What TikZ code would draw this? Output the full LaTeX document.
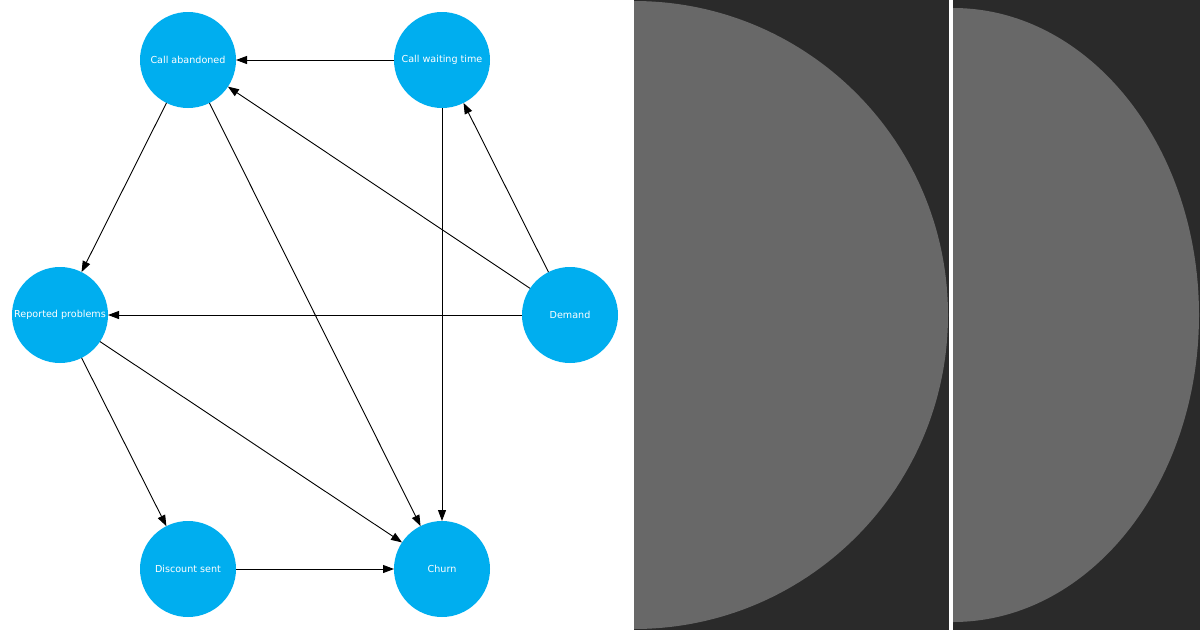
\documentclass[tikz,border=0pt]{standalone}
\usepackage{fontspec}
\setmainfont{DejaVu Sans}
\usetikzlibrary{arrows.meta}
\definecolor{nodeblue}{HTML}{00AEEF}
\definecolor{paneldark}{HTML}{2A2A2A}
\definecolor{discgrey}{HTML}{686868}
\begin{document}
\begin{tikzpicture}[x=1pt,y=-1pt,
  var/.style={circle,fill=nodeblue,minimum size=96pt,inner sep=0pt,outer sep=0pt,
    text=white,font=\fontsize{9.6}{11}\selectfont},
  link/.style={-{Triangle[length=11pt,width=8pt]},line width=0.9pt,black}]
\useasboundingbox (0,0) rectangle (1200,630);
\fill[white] (0,0) rectangle (1200,630);
% right panels
\fill[paneldark] (634,0) rectangle (1200,630);
\begin{scope}
  \clip (634,0) rectangle (949,630);
  \fill[discgrey] (634,315) circle (314);
\end{scope}
\fill[white] (949,0) rectangle (953,630);
\begin{scope}
  \clip (953,0) rectangle (1200,630);
  \fill[discgrey] (953,315) ellipse [x radius=246, y radius=307];
\end{scope}
% nodes
\node[var] (abandoned) at (188,60) {Call abandoned};
\node[var] (waiting) at (442,60) {Call waiting time};
\node[var] (reported) at (60,315) {Reported problems};
\node[var] (demand) at (570,315) {Demand};
\node[var] (discount) at (188,569) {Discount sent};
\node[var] (churn) at (442,569) {Churn};
% edges
\draw[link] (waiting) -- (abandoned);
\draw[link] (demand) -- (abandoned);
\draw[link] (demand) -- (waiting);
\draw[link] (demand) -- (reported);
\draw[link] (abandoned) -- (reported);
\draw[link] (abandoned) -- (churn);
\draw[link] (waiting) -- (churn);
\draw[link] (reported) -- (churn);
\draw[link] (reported) -- (discount);
\draw[link] (discount) -- (churn);
\end{tikzpicture}
\end{document}
